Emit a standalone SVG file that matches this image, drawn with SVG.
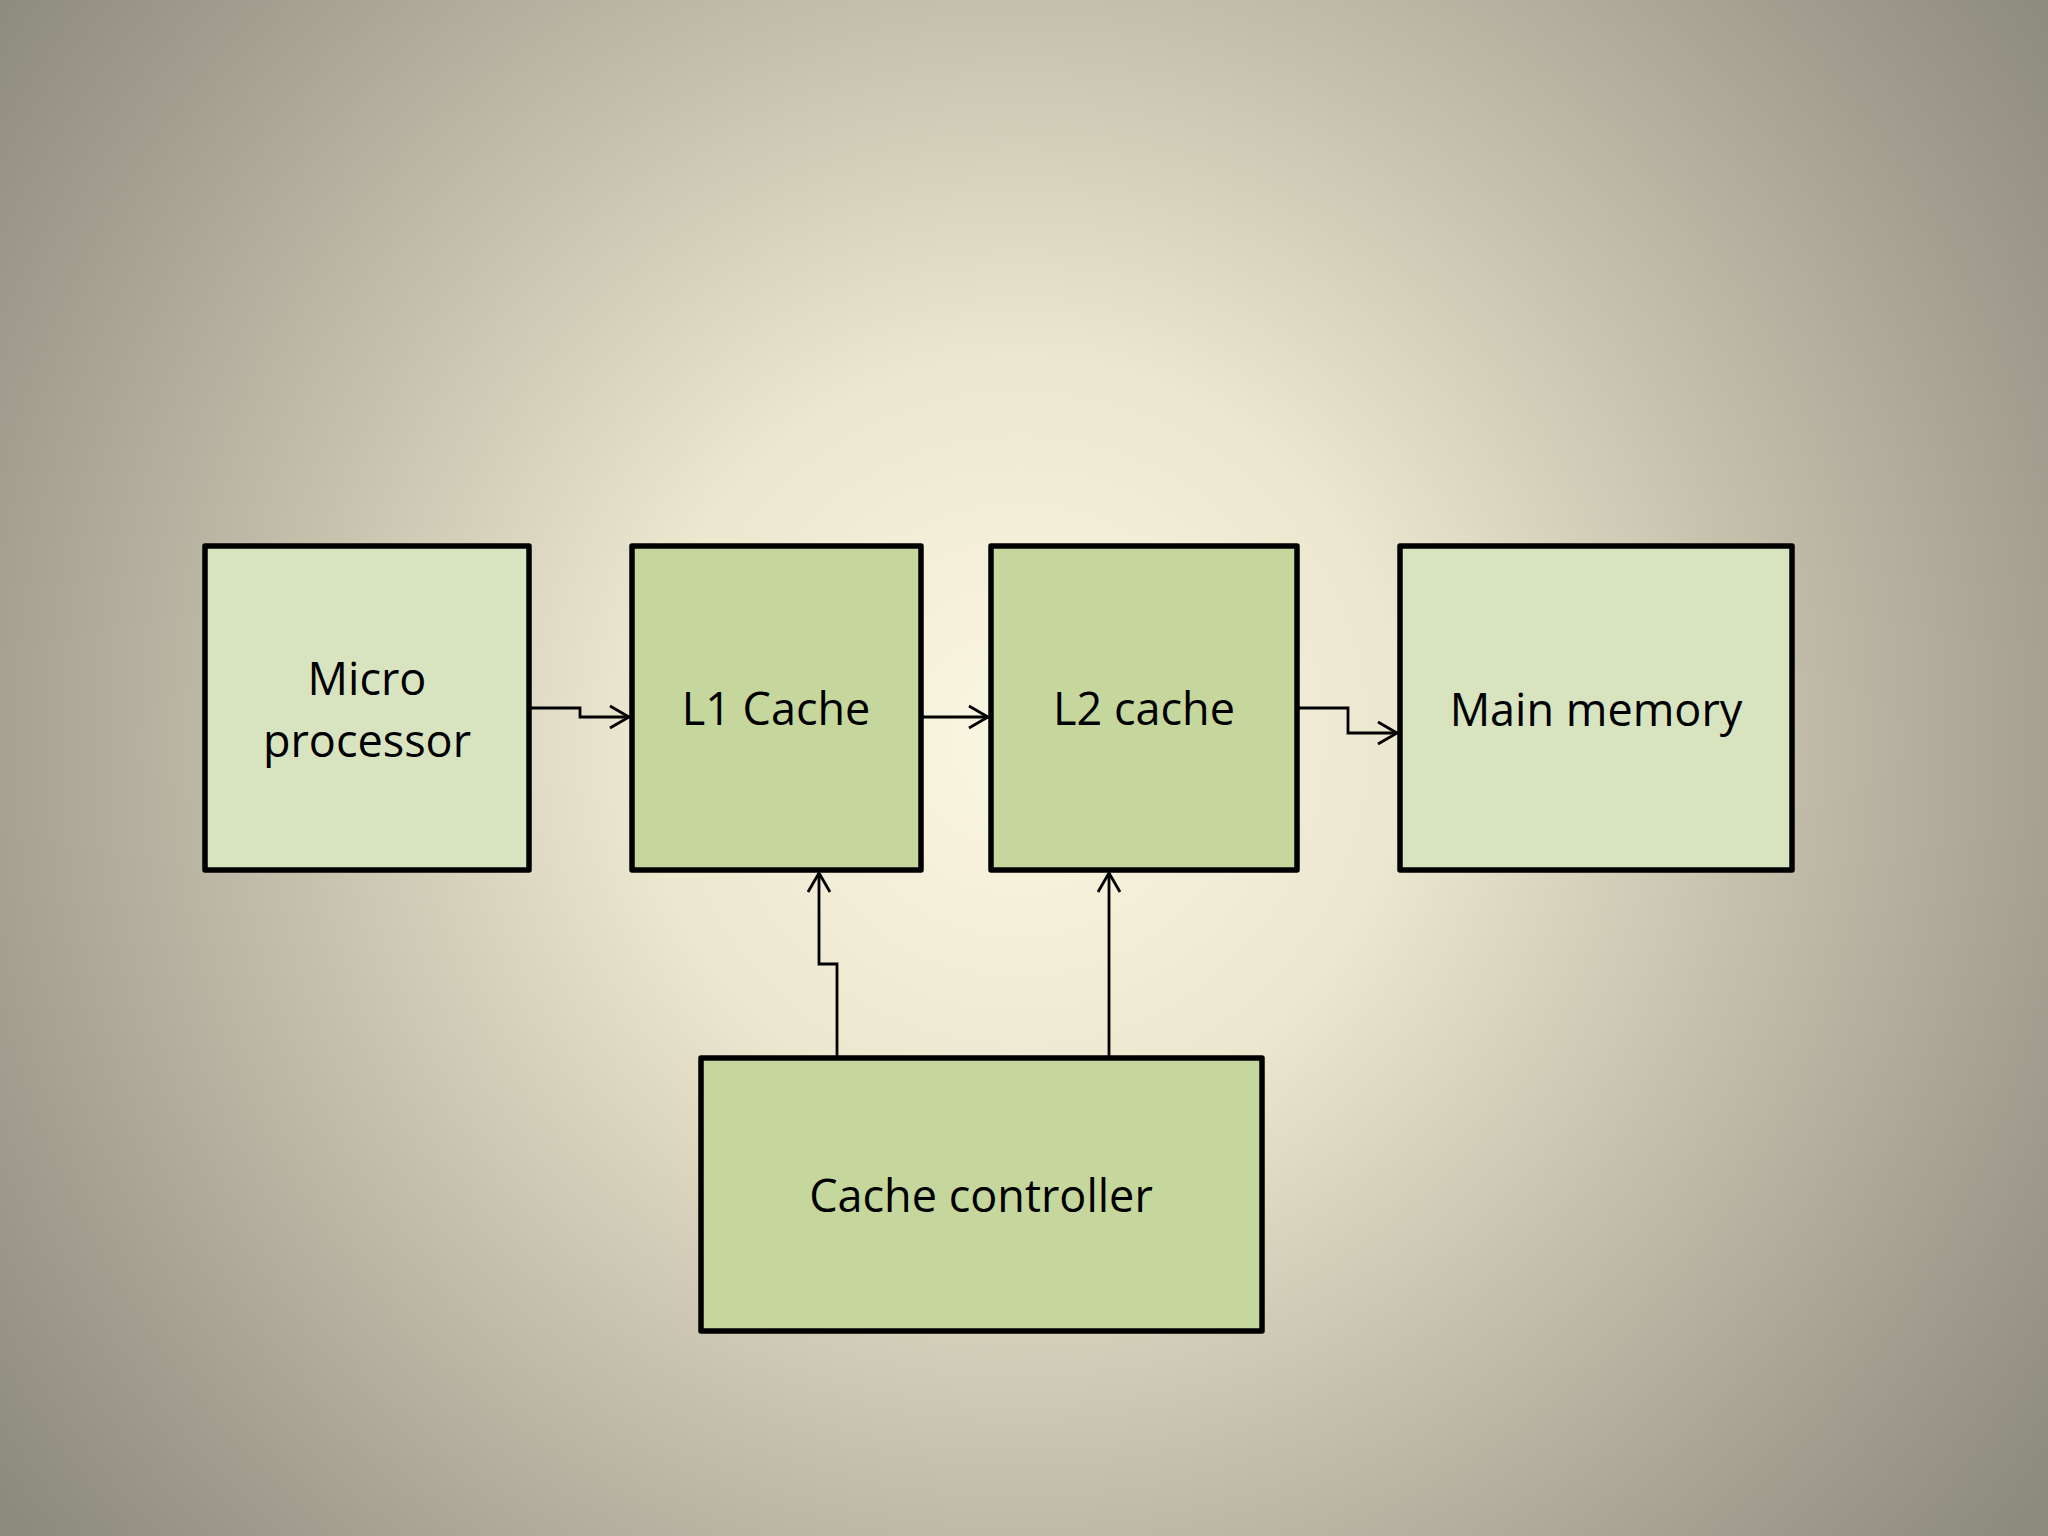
<svg xmlns="http://www.w3.org/2000/svg" width="2048" height="1536" viewBox="0 0 2048 1536">
<defs>
<radialGradient id="bg" gradientUnits="userSpaceOnUse" cx="1020" cy="740" r="1270">
<stop offset="0" stop-color="#faf7e2"/>
<stop offset="0.3" stop-color="#ece7cf"/>
<stop offset="0.58" stop-color="#c4c0ac"/>
<stop offset="0.82" stop-color="#a3a092"/>
<stop offset="1" stop-color="#8d8a7e"/>
</radialGradient>
<marker id="arr" markerUnits="userSpaceOnUse" markerWidth="30" markerHeight="30" viewBox="-22 -15 26 30" refX="0" refY="0" orient="auto" overflow="visible">
<path d="M-19,-11 L0,0 L-19,11" fill="none" stroke="#000" stroke-width="2.8"/>
</marker>
</defs>
<style>
.box{stroke:#000;stroke-width:5.5;stroke-linejoin:round}
.light{fill:#d8e4c0}
.dark{fill:#c6d79e}
.lbl{font-family:"Open Sans","Lato",sans-serif;font-size:45px;fill:#000;text-anchor:middle}
.con{fill:none;stroke:#000;stroke-width:2.8;marker-end:url(#arr)}
</style>
<rect x="0" y="0" width="2048" height="1536" fill="url(#bg)"/>
<g id="connectors">
<path class="con" d="M529,708 H580 V717 H629"/>
<path class="con" d="M921,717 H988"/>
<path class="con" d="M1297,708 H1348 V733 H1397"/>
<path class="con" d="M837,1058 V964 H819 V873"/>
<path class="con" d="M1109,1058 V873"/>
</g>
<g id="micro">
<rect class="box light" x="205" y="546" width="324" height="324"/>
<text class="lbl" x="367" y="695">Micro</text>
<text class="lbl" x="367" y="757">processor</text>
</g>
<g id="l1">
<rect class="box dark" x="632" y="546" width="289" height="324"/>
<text class="lbl" x="776" y="725">L1 Cache</text>
</g>
<g id="l2">
<rect class="box dark" x="991" y="546" width="306" height="324"/>
<text class="lbl" x="1144" y="725">L2 cache</text>
</g>
<g id="main">
<rect class="box light" x="1400" y="546" width="392" height="324"/>
<text class="lbl" x="1596" y="726">Main memory</text>
</g>
<g id="controller">
<rect class="box dark" x="701" y="1058" width="561" height="273"/>
<text class="lbl" x="981" y="1212">Cache controller</text>
</g>
</svg>
